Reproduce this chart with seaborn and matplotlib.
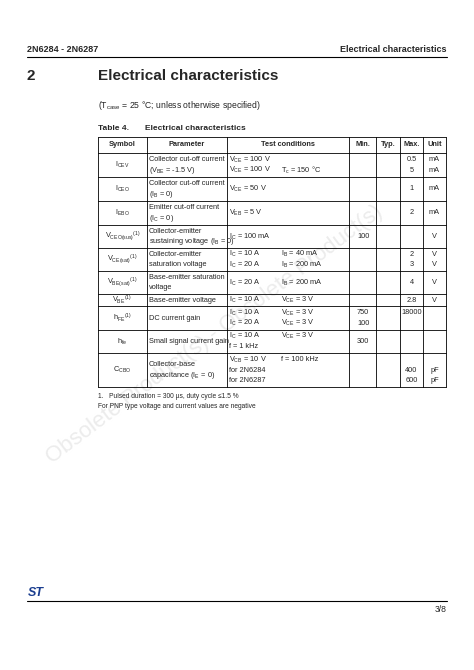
import matplotlib
matplotlib.use("Agg")
import matplotlib.pyplot as plt
import seaborn as sns

sns.set_theme(style="white")
plt.rcParams['font.family'] = ['Liberation Sans', 'DejaVu Sans']
plt.rcParams['mathtext.fontset'] = 'custom'
plt.rcParams['mathtext.rm'] = 'Liberation Sans'
plt.rcParams['mathtext.it'] = 'Liberation Sans'

# table content
headers = ["Symbol", "Parameter", "Test conditions", "Min.", "Typ.", "Max.", "Unit"]
symbols = [r"$\rm I_{CEV}$", r"$\rm I_{CEO}$", r"$\rm I_{EBO}$", r"$\rm V_{CEO(sus)}$$^{(1)}$",
           r"$\rm V_{CE(sat)}$$^{(1)}$", r"$\rm V_{BE(sat)}$$^{(1)}$", r"$\rm V_{BE}$$^{(1)}$",
           r"$\rm h_{FE}$$^{(1)}$", r"$\rm h_{fe}$", r"$\rm C_{CBO}$"]
parameters = [["Collector cut-off current", r"($\rm V_{BE}$ = -1.5 V)"],
              ["Collector cut-off current", r"($\rm I_{B}$ = 0)"],
              ["Emitter cut-off current", r"($\rm I_{C}$ = 0)"],
              ["Collector-emitter", r"sustaining voltage ($\rm I_{B}$ = 0)"],
              ["Collector-emitter", "saturation voltage"],
              ["Base-emitter saturation", "voltage"],
              ["Base-emitter voltage"],
              ["DC current gain"],
              ["Small signal current gain"],
              ["Collector-base", r"capacitance ($\rm I_{E}$ = 0)"]]
conditions = [[(r"$\rm V_{CE}$ = 100 V", ""), (r"$\rm V_{CE}$ = 100 V", r"$\rm T_{c}$ = 150 °C")],
              [(r"$\rm V_{CE}$ = 50 V", "")],
              [(r"$\rm V_{EB}$ = 5 V", "")],
              [(r"$\rm I_{C}$ = 100 mA", "")],
              [(r"$\rm I_{C}$ = 10 A", r"$\rm I_{B}$ = 40 mA"), (r"$\rm I_{C}$ = 20 A", r"$\rm I_{B}$ = 200 mA")],
              [(r"$\rm I_{C}$ = 20 A", r"$\rm I_{B}$ = 200 mA")],
              [(r"$\rm I_{C}$ = 10 A", r"$\rm V_{CE}$ = 3 V")],
              [(r"$\rm I_{C}$ = 10 A", r"$\rm V_{CE}$ = 3 V"), (r"$\rm I_{C}$ = 20 A", r"$\rm V_{CE}$ = 3 V")],
              [(r"$\rm I_{C}$ = 10 A", r"$\rm V_{CE}$ = 3 V"), ("f = 1 kHz", "")],
              [(r"$\rm V_{CB}$ = 10 V", "f = 100 kHz"), ("for 2N6284", ""), ("for 2N6287", "")]]
min_vals = [[], [], [], ["100"], [], [], [], ["750", "100"], ["300"], []]
max_vals = [["0.5", "5"], ["1"], ["2"], [], ["2", "3"], ["4"], ["2.8"], ["18000", ""], [], ["", "400", "600"]]
units = [["mA", "mA"], ["mA"], ["mA"], ["V"], ["V", "V"], ["V"], ["V"], [], [], ["", "pF", "pF"]]

# layout in pixels
col_x = [98, 147, 227, 349, 376, 400, 423, 446]
row_y = [137, 153, 177, 201, 225, 248, 271, 294, 306, 330, 353, 387]
line_h = 10.5
fs = 5.3

fig = plt.figure(figsize=(4.74, 6.70), dpi=100)
ax = fig.add_axes([0, 0, 1, 1])
ax.set_xlim(0, 474)
ax.set_ylim(670, 0)
ax.axis("off")

# watermark
ax.text(215, 335, "Obsolete Product(s) - Obsolete Product(s)", fontsize=16, color="#ececec",
        rotation=37, ha="center", va="center", zorder=0)

# page header
ax.text(27, 50, "2N6284 - 2N6287", fontsize=6.5, fontweight="bold", va="center")
ax.text(447, 50, "Electrical characteristics", fontsize=6.5, fontweight="bold", va="center", ha="right")
ax.plot([27, 447], [57, 57], color="black", lw=0.8)
ax.text(27, 76, "2", fontsize=11, fontweight="bold", va="center")
ax.text(98, 76, "Electrical characteristics", fontsize=11, fontweight="bold", va="center")
ax.text(98, 106, r"($\rm T_{case}$ = 25 °C; unless otherwise specified)", fontsize=6.2, va="center")
ax.text(98, 129, "Table 4.", fontsize=6, fontweight="bold", va="center")
ax.text(145, 129, "Electrical characteristics", fontsize=6, fontweight="bold", va="center")

# grid
for x in col_x:
    ax.plot([x, x], [row_y[0], row_y[-1]], color="black", lw=0.6)
for y in row_y:
    ax.plot([col_x[0], col_x[-1]], [y, y], color="black", lw=0.6)

for j, h in enumerate(headers):
    ax.text((col_x[j] + col_x[j + 1]) / 2, (row_y[0] + row_y[1]) / 2, h, fontsize=fs,
            fontweight="bold", ha="center", va="center")


def stack(lines, x, y_mid, ha="left"):
    top = y_mid - (len(lines) - 1) * line_h / 2
    for k, s in enumerate(lines):
        if s:
            ax.text(x, top + k * line_h, s, fontsize=fs, ha=ha, va="center")


for i in range(len(symbols)):
    ym = (row_y[i + 1] + row_y[i + 2]) / 2
    ax.text((col_x[0] + col_x[1]) / 2, ym, symbols[i], fontsize=fs, ha="center", va="center")
    stack(parameters[i], col_x[1] + 2, ym)
    stack([c[0] for c in conditions[i]], col_x[2] + 2, ym)
    stack([c[1] for c in conditions[i]], col_x[2] + 54, ym)
    stack(min_vals[i], col_x[3] + 8, ym)
    stack(max_vals[i], (col_x[5] + col_x[6]) / 2, ym, ha="center")
    stack(units[i], (col_x[6] + col_x[7]) / 2, ym, ha="center")

# footnotes
ax.text(98, 396, "1.   Pulsed duration = 300 µs, duty cycle ≤1.5 %", fontsize=4.8, va="center")
ax.text(98, 407, "For PNP type voltage and current values are negative", fontsize=4.8, va="center")

# footer
ax.plot([27, 447], [601, 601], color="black", lw=0.8)
ax.text(28, 593, "ST", fontsize=9, fontweight="bold", fontstyle="italic", color="#1a3d8f", va="center")
ax.text(447, 609, "3/8", fontsize=6.2, ha="right", va="center")

fig.savefig("out.png", dpi=100)
